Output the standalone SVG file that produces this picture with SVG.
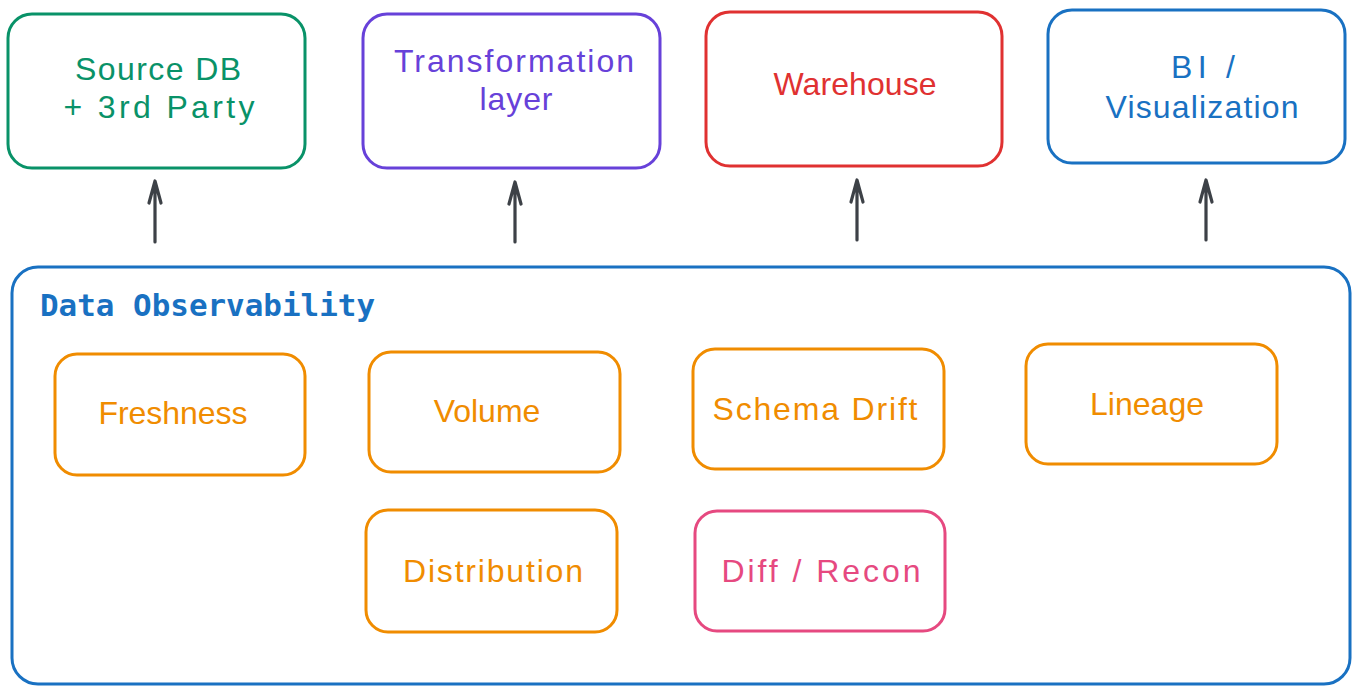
<svg xmlns="http://www.w3.org/2000/svg" width="1358" height="691" viewBox="0 0 1358 691">
<style>
.box{fill:#ffffff;stroke-width:3;stroke-linejoin:round}
.lbl{font-family:"Liberation Sans",Arial,sans-serif;font-size:32px;text-anchor:middle}
.conn{stroke:#3d4147;stroke-width:3.2;fill:none;stroke-linecap:round;stroke-linejoin:round}
.g{stroke:#099268}.gt{fill:#099268}
.p{stroke:#6741d9}.pt{fill:#6741d9}
.r{stroke:#e03131}.rt{fill:#e03131}
.b{stroke:#1971c2}.bt{fill:#1971c2}
.o{stroke:#f08c00}.ot{fill:#f08c00}
.k{stroke:#e64980}.kt{fill:#e64980}
</style>
<rect width="1358" height="691" fill="#ffffff"/>

<g id="source-db">
<rect class="box g" x="8" y="14" width="297" height="154" rx="24"/>
<text class="lbl gt" x="158" y="80" textLength="166" lengthAdjust="spacing">Source DB</text>
<text class="lbl gt" x="159" y="118" textLength="191" lengthAdjust="spacing">+ 3rd Party</text>
</g>

<g id="transformation">
<rect class="box p" x="363" y="14" width="297" height="154" rx="24"/>
<text class="lbl pt" x="514" y="72" textLength="240" lengthAdjust="spacing">Transformation</text>
<text class="lbl pt" x="516" y="110" textLength="73" lengthAdjust="spacing">layer</text>
</g>

<g id="warehouse">
<rect class="box r" x="706" y="12" width="296" height="154" rx="24"/>
<text class="lbl rt" x="855" y="95" textLength="163" lengthAdjust="spacing">Warehouse</text>
</g>

<g id="bi">
<rect class="box b" x="1048" y="10" width="297" height="153" rx="24"/>
<text class="lbl bt" x="1203" y="78" textLength="64" lengthAdjust="spacing">BI /</text>
<text class="lbl bt" x="1202" y="118" textLength="193" lengthAdjust="spacing">Visualization</text>
</g>

<g id="connectors">
<path class="conn" d="M155 242 L155 181 M149 203 L155 181 L161 203"/>
<path class="conn" d="M515 242 L515 182 M509 204 L515 182 L521 204"/>
<path class="conn" d="M857 240 L857 180 M851 202 L857 180 L863 202"/>
<path class="conn" d="M1206 240 L1206 180 M1200 202 L1206 180 L1212 202"/>
</g>

<g id="data-observability">
<rect class="box b" x="12" y="267" width="1338" height="417" rx="26" fill="none"/>
<text x="40" y="316" font-family="'DejaVu Sans Mono','Liberation Mono',monospace" font-size="30" font-weight="bold" fill="#1971c2" textLength="335" lengthAdjust="spacingAndGlyphs">Data Observability</text>
</g>

<g id="freshness">
<rect class="box o" x="55" y="354" width="250" height="121" rx="22"/>
<text class="lbl ot" x="173" y="424" textLength="149" lengthAdjust="spacing">Freshness</text>
</g>

<g id="volume">
<rect class="box o" x="369" y="352" width="251" height="120" rx="22"/>
<text class="lbl ot" x="487" y="422">Volume</text>
</g>

<g id="schema-drift">
<rect class="box o" x="693" y="349" width="251" height="120" rx="22"/>
<text class="lbl ot" x="815" y="420" textLength="205" lengthAdjust="spacing">Schema Drift</text>
</g>

<g id="lineage">
<rect class="box o" x="1026" y="344" width="251" height="120" rx="22"/>
<text class="lbl ot" x="1147" y="415" textLength="114" lengthAdjust="spacing">Lineage</text>
</g>

<g id="distribution">
<rect class="box o" x="366" y="510" width="251" height="122" rx="22"/>
<text class="lbl ot" x="493" y="582" textLength="180" lengthAdjust="spacing">Distribution</text>
</g>

<g id="diff-recon">
<rect class="box k" x="695" y="511" width="250" height="120" rx="22"/>
<text class="lbl kt" x="821" y="582" textLength="199" lengthAdjust="spacing">Diff / Recon</text>
</g>
</svg>
